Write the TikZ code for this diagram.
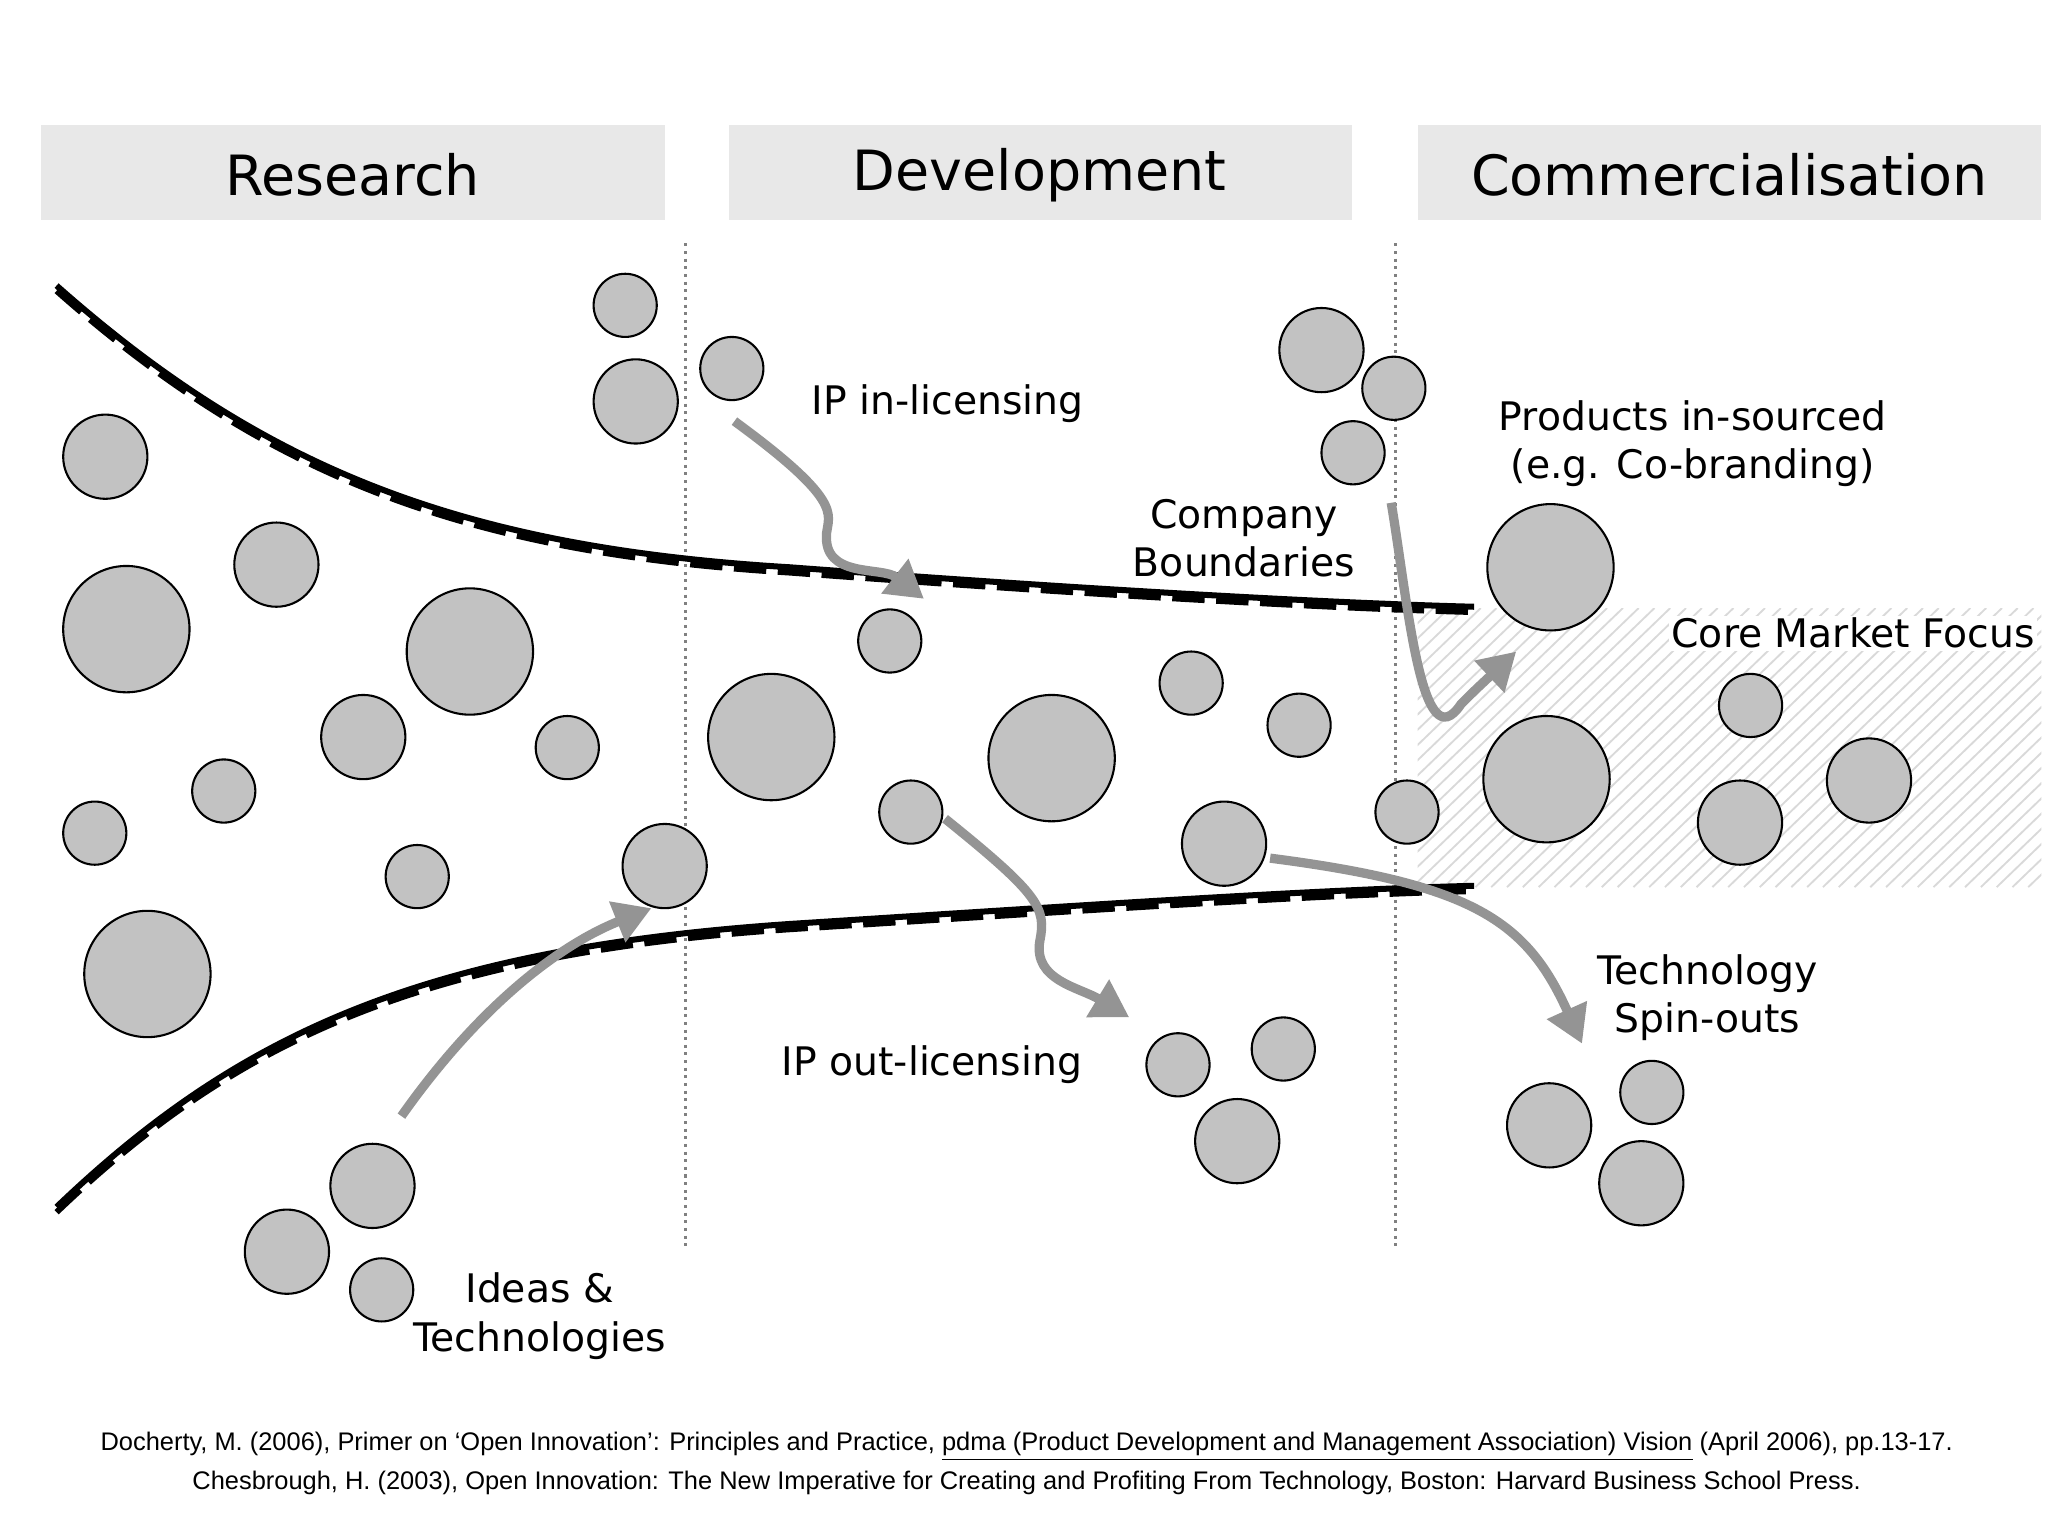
\documentclass[tikz,border=0pt]{standalone}
\usepackage{fontspec}
\setmainfont{DejaVu Sans}
\newfontfamily\reffont{Liberation Sans}
\usetikzlibrary{arrows.meta}
\begin{document}
\begin{tikzpicture}[x=0.02cm,y=-0.02cm,
 hdr/.style={fill=black!9,draw=none},
 bub/.style={fill=black!24,draw=black,line width=0.9pt},
 flow/.style={draw=black!42,line width=4pt,-{Triangle[length=16pt,width=18pt]}},
 lbl/.style={font=\fontsize{17}{21}\selectfont,align=center},
 bnd/.style={line width=2.6pt},
 bndsh/.style={line width=2.6pt,dash pattern=on 14pt off 5pt},
 sep/.style={draw=black!50,line width=1.3pt,dotted}]
\useasboundingbox (0,0) rectangle (1556,1168);
% headers
\fill[hdr] (31,95) rectangle (505,167);
\fill[hdr] (554,95) rectangle (1027,167);
\fill[hdr] (1077,95) rectangle (1551,167);
\node[font=\fontsize{24}{28}\selectfont] (hr) at (268,133) {Research};
\node[font=\fontsize{24}{28}\selectfont] (hd) at (790,133) {Development};
\node[font=\fontsize{24}{28}\selectfont] (hc) at (1314,133) {Commercialisation};
% hatched core market
\begin{scope}
\clip (1077,462) rectangle (1551,674);
\foreach \i in {0,12,...,700} {\draw[black!15,line width=0.8pt] (1077+\i-220,674) -- (1077+\i,462);}
\end{scope}
% separators
\draw[sep] (521,185) -- (521,950);
\draw[sep] (1060,185) -- (1060,950);
% boundaries
\draw[bndsh] (43,221) .. controls (200,360) and (350,420) .. (600,435) .. controls (800,450) and (1000,462) .. (1120,465);
\draw[bnd] (43,217) .. controls (200,356) and (350,416) .. (600,431) .. controls (800,446) and (1000,458) .. (1120,461);
\draw[bndsh] (43,921) .. controls (180,790) and (320,725) .. (600,706) .. controls (850,690) and (1000,680) .. (1120,677);
\draw[bnd] (43,917) .. controls (180,786) and (320,721) .. (600,702) .. controls (850,686) and (1000,676) .. (1120,673);
% bubbles
\foreach \x/\y/\r [count=\n] in {475/232/24,483/305/32,556/280/24,80/347/32,210/429/32,96/478/48,357/495/48,276/560/32,431/568/24,170/601/24,72/633/24,317/666/24,505/658/32,112/740/48,283/901/32,218/951/32,290/980/24,1004/266/32,1059/295/24,1028/344/24,1178/431/48,676/487/24,586/560/48,799/576/48,905/519/24,987/551/24,692/617/24,930/641/32,1069/617/24,1175/592/48,1330/536/24,1322/625/32,1420/593/32,895/809/24,975/797/24,940/867/32,1177/855/32,1255/830/24,1247/899/32}
 {\node[bub,circle,minimum size=2*\r*0.02cm,inner sep=0pt] (b\n) at (\x,\y) {};}
% flows
\coordinate (f1s) at (305,848); \coordinate (f1e) at (495,690);
\draw[flow] (f1s) .. controls (360,770) and (420,720) .. (f1e);
\coordinate (f2s) at (558,320); \coordinate (f2e) at (702,455);
\draw[flow] (f2s) .. controls (640,380) and (630,390) .. (628,405) .. controls (625,440) and (670,430) .. (f2e);
\coordinate (f3s) at (718,622); \coordinate (f3e) at (858,773);
\draw[flow] (f3s) .. controls (790,680) and (795,690) .. (790,715) .. controls (785,745) and (820,750) .. (f3e);
\coordinate (f4s) at (965,652); \coordinate (f4e) at (1202,793);
\draw[flow] (f4s) .. controls (1120,672) and (1160,700) .. (f4e);
\coordinate (f5s) at (1057,382); \coordinate (f5e) at (1152,495);
\draw[flow] (f5s) .. controls (1070,460) and (1080,580) .. (1110,535) .. controls (1120,525) .. (f5e);
% labels
\node[lbl] (l1) at (720,307) {IP in-licensing};
\node[lbl] (l2) at (945,409) {Company\\Boundaries};
\node[lbl] (l3) at (1286,337) {Products in-sourced\\(e.g. Co-branding)};
\node[lbl,fill=white,inner sep=1pt] (l4) at (1408,481) {Core Market Focus};
\node[lbl] (l5) at (1297,758) {Technology\\Spin-outs};
\node[lbl] (l6) at (708,809) {IP out-licensing};
\node[lbl] (l7) at (410,1000) {Ideas \&\\Technologies};
\node[font=\reffont\fontsize{11}{17}\selectfont,align=center] (refs) at (780,1112) {Docherty, M. (2006), Primer on ‘Open Innovation’: Principles and Practice, \underline{pdma (Product Development and Management Association) Vision} (April 2006), pp.13-17.\\Chesbrough, H. (2003), Open Innovation: The New Imperative for Creating and Profiting From Technology, Boston: Harvard Business School Press.};
\end{tikzpicture}
\end{document}
